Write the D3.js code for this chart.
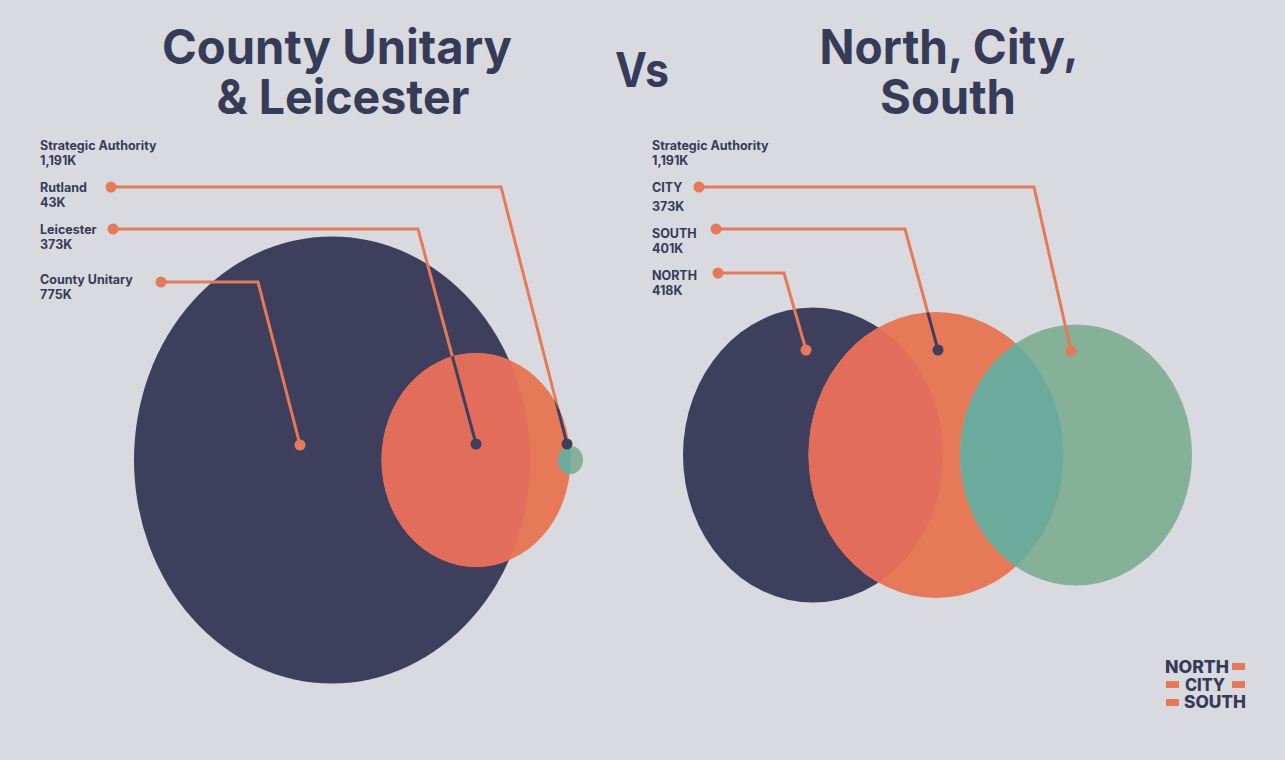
<!DOCTYPE html>
<html>
<head>
<meta charset="utf-8">
<script src="https://cdn.jsdelivr.net/npm/d3@7"></script>
<style>
  html, body { margin: 0; padding: 0; background: #d9dae0; }
  svg { display: block; }
  text { font-family: Inter, "Open Sans", sans-serif; fill: #363b58; }
</style>
</head>
<body>
<div id="chart"></div>
<script>
// values, thousands of people
const leftNames = ["County Unitary", "Leicester", "Rutland"];
const leftValues = [775, 373, 43];
const rightNames = ["NORTH", "SOUTH", "CITY"];
const rightValues = [418, 401, 373];
const totalLabel = "Strategic Authority";
const totalValue = "1,191K";

const width = 1285;
const height = 760;

const navy = "#3e3f5d";
const orange = "#e67a58";
const green = "#84b197";
const orangeOnNavy = "#e26d5a";
const greenOnOrange = "#6cab9c";

const svg = d3.select("#chart")
  .append("svg")
  .attr("width", width)
  .attr("height", height);

svg.append("rect")
  .attr("width", width)
  .attr("height", height)
  .attr("fill", "#d9dae0");

// titles
const titles = [
  {text: "County Unitary", x: 337, y: 64, len: 350},
  {text: "& Leicester", x: 343, y: 114, len: 253},
  {text: "Vs", x: 642, y: 87, len: 54},
  {text: "North, City,", x: 949, y: 64, len: 259},
  {text: "South", x: 948, y: 114, len: 136}
];
svg.append("g")
  .selectAll("text")
  .data(titles)
  .enter()
  .append("text")
  .attr("x", d => d.x)
  .attr("y", d => d.y)
  .attr("text-anchor", "middle")
  .attr("font-size", 48)
  .attr("font-weight", 700)
  .attr("textLength", d => d.len)
  .attr("lengthAdjust", "spacingAndGlyphs")
  .text(d => d.text);

function drawVenn(id, names, values, opts) {
  const g = svg.append("g");

  // size scales, the ellipses are a bit taller than wide
  const rx = d3.scaleLinear().domain(opts.valueStops).range(opts.rxStops);
  const ry = d3.scaleLinear().domain(opts.valueStops).range(opts.ryStops);
  const cx = d3.scaleOrdinal().domain(names).range(opts.centers);
  const cy = opts.cy;
  const data = names.map((name, i) => ({name, value: values[i], index: i}));

  const defs = g.append("defs");
  data.forEach(d => {
    defs.append("clipPath")
      .attr("id", `${id}-clip-${d.index}`)
      .append("ellipse")
      .attr("cx", cx(d.name))
      .attr("cy", cy)
      .attr("rx", rx(d.value))
      .attr("ry", ry(d.value));
  });

  const ellipse = (sel, d, fill) => sel.append("ellipse")
    .attr("cx", cx(d.name))
    .attr("cy", cy)
    .attr("rx", rx(d.value))
    .attr("ry", ry(d.value))
    .attr("fill", fill);

  // plain shapes, then the overlaps on top
  ellipse(g, data[0], navy);
  ellipse(g, data[1], orange);
  ellipse(g, data[1], orangeOnNavy).attr("clip-path", `url(#${id}-clip-0)`);
  ellipse(g, data[2], green);
  ellipse(g, data[2], greenOnOrange).attr("clip-path", `url(#${id}-clip-1)`);

  // leader lines
  const line = d3.line();
  opts.leaders.forEach(l => {
    g.append("path")
      .attr("d", line(l.points))
      .attr("fill", "none")
      .attr("stroke", orange)
      .attr("stroke-width", 3);
    if (l.dark) {
      // line turns dark where it crosses the orange shape
      g.append("path")
        .attr("d", line(l.points))
        .attr("fill", "none")
        .attr("stroke", navy)
        .attr("stroke-width", 3)
        .attr("clip-path", `url(#${id}-clip-1)`);
    }
    const start = l.points[0];
    const end = l.points[l.points.length - 1];
    g.append("circle").attr("cx", start[0]).attr("cy", start[1]).attr("r", 5.5).attr("fill", orange);
    g.append("circle").attr("cx", end[0]).attr("cy", end[1]).attr("r", 5.5).attr("fill", l.dark ? navy : orange);
  });

  // labels beside the leaders
  const labels = [{name: totalLabel, value: totalValue, y: opts.totalY, gap: 15}]
    .concat(opts.labelRows.map(r => ({
      name: r.name,
      value: values[names.indexOf(r.name)] + "K",
      y: r.y,
      gap: r.gap
    })));
  const lab = g.append("g")
    .selectAll("g")
    .data(labels)
    .enter()
    .append("g");
  lab.append("text")
    .attr("x", opts.labelX)
    .attr("y", d => d.y)
    .attr("font-size", 12.5)
    .attr("font-weight", 700)
    .text(d => d.name);
  lab.append("text")
    .attr("x", opts.labelX)
    .attr("y", d => d.y + d.gap)
    .attr("font-size", 12.5)
    .attr("font-weight", 700)
    .text(d => d.value);
}

drawVenn("left", leftNames, leftValues, {
  valueStops: [43, 373, 775],
  rxStops: [12.5, 94.5, 198],
  ryStops: [14, 107, 223.5],
  centers: [332, 476, 570.5],
  cy: 460,
  labelX: 40,
  totalY: 150,
  labelRows: [
    {name: "Rutland", y: 192, gap: 15},
    {name: "Leicester", y: 234, gap: 15},
    {name: "County Unitary", y: 284, gap: 15}
  ],
  leaders: [
    {points: [[111, 187], [501, 187], [567, 444]], dark: true},
    {points: [[113, 229], [418, 229], [476, 444]], dark: true},
    {points: [[161, 282], [258, 282], [300, 445]], dark: false}
  ]
});

drawVenn("right", rightNames, rightValues, {
  valueStops: [373, 401, 418],
  rxStops: [116, 127.5, 130],
  ryStops: [130.5, 143, 147.5],
  centers: [813, 936, 1076],
  cy: 455,
  labelX: 652,
  totalY: 150,
  labelRows: [
    {name: "CITY", y: 192, gap: 19},
    {name: "SOUTH", y: 238, gap: 15},
    {name: "NORTH", y: 280, gap: 15}
  ],
  leaders: [
    {points: [[699, 187], [1034, 187], [1071, 351]], dark: false},
    {points: [[716, 229], [905, 229], [938, 350]], dark: true},
    {points: [[718, 273], [784, 273], [806, 350]], dark: false}
  ]
});

// logo bottom right
const logoWords = [
  {text: "NORTH", x: 1165, y: 673, len: 64},
  {text: "CITY", x: 1185, y: 691, len: 40},
  {text: "SOUTH", x: 1184, y: 708, len: 62}
];
const logo = svg.append("g");
logo.selectAll("text")
  .data(logoWords)
  .enter()
  .append("text")
  .attr("x", d => d.x)
  .attr("y", d => d.y)
  .attr("font-size", 17)
  .attr("font-weight", 800)
  .attr("textLength", d => d.len)
  .attr("lengthAdjust", "spacingAndGlyphs")
  .text(d => d.text);
logo.selectAll("rect")
  .data([[1232, 663], [1166, 681], [1232, 681], [1166, 699]])
  .enter()
  .append("rect")
  .attr("x", d => d[0])
  .attr("y", d => d[1])
  .attr("width", 13)
  .attr("height", 7)
  .attr("fill", orange);
</script>
</body>
</html>
